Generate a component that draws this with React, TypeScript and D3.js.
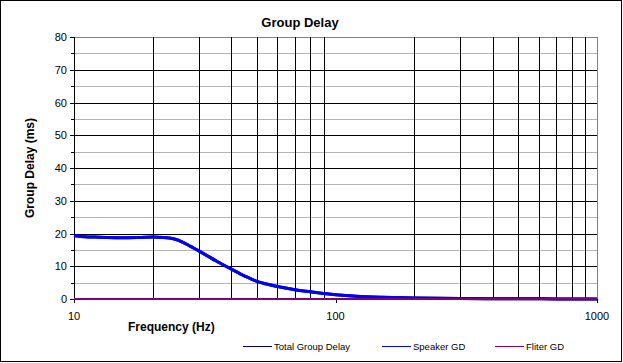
import React from "react";
import * as d3 from "d3";

const frequencies = [10, 11, 12, 15, 18, 20, 22, 24, 26, 28, 30, 35, 40, 45, 50, 55, 60, 70, 80, 90, 100, 120, 150, 200, 300, 500, 700, 1000];
const speakerGD = [19.3, 19.0, 18.9, 18.7, 18.8, 18.9, 18.8, 18.4, 17.4, 16.0, 14.7, 11.6, 9.1, 7.0, 5.4, 4.5, 3.8, 2.8, 2.2, 1.7, 1.3, 0.85, 0.55, 0.3, 0.15, 0.06, 0.03, 0.01];
const totalGD = speakerGD.slice();
const filterGD = frequencies.map(() => 0);
const yMajorTicks = [0, 10, 20, 30, 40, 50, 60, 70, 80];
const yMinorTicks = [5, 15, 25, 35, 45, 55, 65, 75];
const xLabelTicks = [10, 100, 1000];
const xGridTicks = [20, 30, 40, 50, 60, 70, 80, 90, 200, 300, 400, 500, 600, 700, 800, 900];
const seriesNames = ["Total Group Delay", "Speaker GD", "Fliter GD"];
const seriesColors = ["#000080", "#0000ff", "#800080"];

const W = 623, H = 363;
const L = 74, R = 597, T = 37, B = 299;

export default function App() {
  const x = d3.scaleLog().domain([10, 1000]).range([L, R]);
  const y = d3.scaleLinear().domain([0, 80]).range([B, T]);
  const line = d3
    .line<number>()
    .x((_, i) => x(frequencies[i]))
    .y((d) => y(d))
    .curve(d3.curveCatmullRom.alpha(0.5));
  const font = "'Liberation Sans', Arial, sans-serif";
  const legendX = [243, 382, 495];
  return (
    <svg width={W} height={H} style={{ position: "absolute", left: 0, top: 0, background: "#fff" }} fontFamily={font}>
      <rect x={0.5} y={0.5} width={621} height={361} fill="#fff" stroke="#000" strokeWidth={1} />
      <text x={300} y={27} textAnchor="middle" fontSize={13} fontWeight="bold">Group Delay</text>
      {yMinorTicks.map((t) => (
        <line key={"ym" + t} x1={L} x2={R} y1={Math.round(y(t)) + 0.5} y2={Math.round(y(t)) + 0.5} stroke="#b4b4b4" strokeWidth={1} />
      ))}
      {yMajorTicks.map((t) => (
        <line key={"yM" + t} x1={L} x2={R} y1={Math.round(y(t)) + 0.5} y2={Math.round(y(t)) + 0.5} stroke={t === 80 ? "#808080" : "#000"} strokeWidth={1} />
      ))}
      {xGridTicks.map((t) => (
        <line key={"xg" + t} x1={Math.round(x(t)) + 0.5} x2={Math.round(x(t)) + 0.5} y1={T} y2={B} stroke="#000" strokeWidth={1} />
      ))}
      <line x1={Math.round(R) + 0.5} x2={Math.round(R) + 0.5} y1={T} y2={B} stroke="#808080" />
      <line x1={L + 0.5} x2={L + 0.5} y1={T} y2={B + 4} stroke="#000" />
      <line x1={L - 4} x2={R} y1={Math.round(B) + 0.5} y2={Math.round(B) + 0.5} stroke="#000" />
      {yMajorTicks.map((t) => (
        <g key={"yl" + t}>
          <line x1={L - 4} x2={L} y1={Math.round(y(t)) + 0.5} y2={Math.round(y(t)) + 0.5} stroke="#000" />
          <text x={L - 7} y={y(t) + 4} textAnchor="end" fontSize={11}>{t}</text>
        </g>
      ))}
      {yMinorTicks.map((t) => (
        <line key={"ymt" + t} x1={L - 3} x2={L} y1={Math.round(y(t)) + 0.5} y2={Math.round(y(t)) + 0.5} stroke="#000" />
      ))}
      {xLabelTicks.map((t) => (
        <g key={"xl" + t}>
          <line x1={Math.round(x(t)) + 0.5} x2={Math.round(x(t)) + 0.5} y1={B} y2={B + 4} stroke="#000" />
          <text x={x(t)} y={320} textAnchor="middle" fontSize={11}>{t}</text>
        </g>
      ))}
      <text x={128} y={331} fontSize={12} fontWeight="bold">Frequency (Hz)</text>
      <text transform={`translate(34,${(T + B) / 2}) rotate(-90)`} textAnchor="middle" fontSize={12} fontWeight="bold">Group Delay (ms)</text>
      <path d={line(totalGD) || ""} fill="none" stroke={seriesColors[0]} strokeWidth={3} />
      <path d={line(speakerGD) || ""} fill="none" stroke={seriesColors[1]} strokeWidth={3} />
      <path d={line(filterGD) || ""} fill="none" stroke={seriesColors[2]} strokeWidth={2} />
      {seriesNames.map((n, i) => (
        <g key={n}>
          <line x1={legendX[i]} x2={legendX[i] + 29} y1={346.5} y2={346.5} stroke={seriesColors[i]} strokeWidth={1} />
          <text x={legendX[i] + 31} y={350} fontSize={9.5}>{n}</text>
        </g>
      ))}
    </svg>
  );
}
